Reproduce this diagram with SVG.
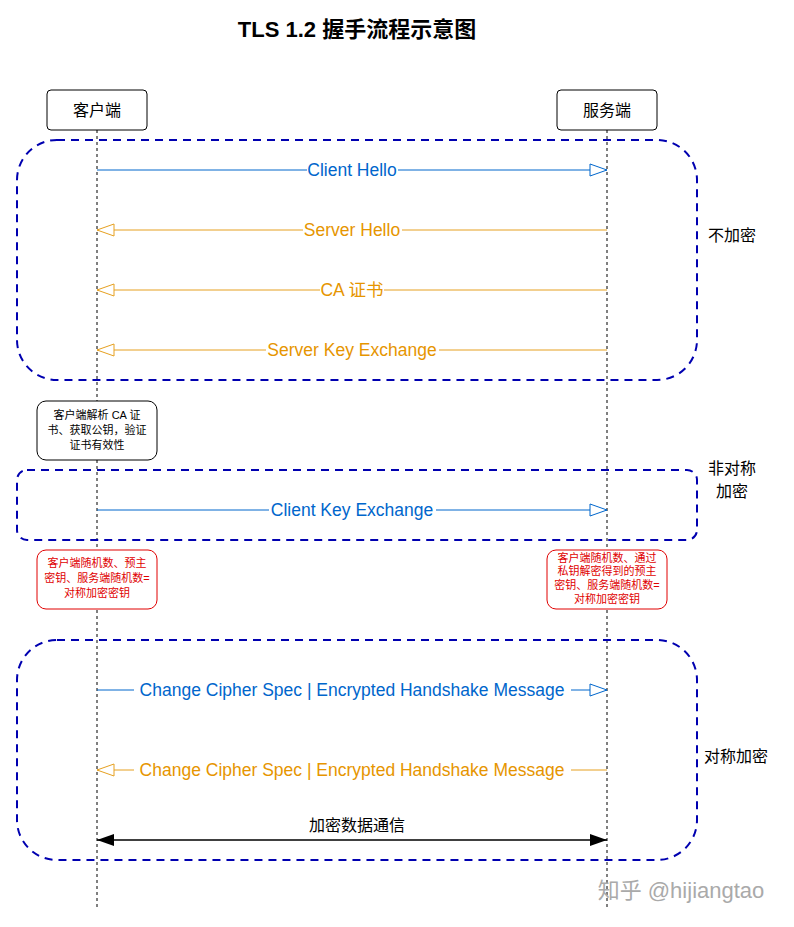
<svg xmlns="http://www.w3.org/2000/svg" width="794" height="927" viewBox="0 0 794 927">
<style>
text{font-family:"Liberation Sans","Noto Sans CJK SC",sans-serif}
.life{stroke:#000;stroke-width:1;stroke-dasharray:3 3}
.grp{fill:none;stroke:#0000B0;stroke-width:2;stroke-dasharray:8 6}
.blue{stroke:#0066CC;stroke-width:1;fill:none}
.orange{stroke:#E6A020;stroke-width:1;fill:none}
.bt{fill:#0066CC;font-size:17.5px;text-anchor:middle}
.ot{fill:#E69500;font-size:17.5px;text-anchor:middle}
.lbl{font-size:16px;fill:#000}
.rt{fill:#E00000;font-size:11px;text-anchor:middle}
.bg{fill:#fff}
</style>
<defs>
<marker id="ab" markerWidth="20" markerHeight="14" refX="18" refY="7" orient="auto" markerUnits="userSpaceOnUse"><path d="M1,1 L18,7 L1,13 Z" fill="#fff" stroke="#0066CC"/></marker>
<marker id="ao" markerWidth="20" markerHeight="14" refX="18" refY="7" orient="auto" markerUnits="userSpaceOnUse"><path d="M1,1 L18,7 L1,13 Z" fill="#fff" stroke="#E6A020"/></marker>
<marker id="ak" markerWidth="20" markerHeight="14" refX="18" refY="7" orient="auto-start-reverse" markerUnits="userSpaceOnUse"><path d="M1,1 L18,7 L1,13 Z" fill="#000"/></marker>
</defs>
<rect width="794" height="927" fill="#fff"/>
<text x="357" y="37" font-size="22" font-weight="bold" text-anchor="middle">TLS 1.2 握手流程示意图</text>
<g id="lifelines">
<line class="life" x1="97" y1="130" x2="97" y2="910"/>
<line class="life" x1="607" y1="130" x2="607" y2="910"/>
</g>
<g id="client"><rect x="47" y="90" width="100" height="40" rx="4" fill="#fff" stroke="#000"/><text x="97" y="116" font-size="16" text-anchor="middle">客户端</text></g>
<g id="server"><rect x="557" y="90" width="100" height="40" rx="4" fill="#fff" stroke="#000"/><text x="607" y="116" font-size="16" text-anchor="middle">服务端</text></g>
<g id="groups">
<rect class="grp" x="17" y="140" width="680" height="240" rx="40"/>
<rect class="grp" x="17" y="470" width="680" height="70" rx="10"/>
<rect class="grp" x="17" y="640" width="680" height="220" rx="40"/>
<text class="lbl" x="732" y="241" text-anchor="middle">不加密</text>
<text class="lbl" x="732" y="474" text-anchor="middle">非对称</text>
<text class="lbl" x="732" y="497" text-anchor="middle">加密</text>
<text class="lbl" x="736" y="762" text-anchor="middle">对称加密</text>
</g>
<g id="connectors">
<line class="blue" x1="97" y1="170" x2="607" y2="170" marker-end="url(#ab)"/>
<line class="orange" x1="607" y1="230" x2="97" y2="230" marker-end="url(#ao)"/>
<line class="orange" x1="607" y1="290" x2="97" y2="290" marker-end="url(#ao)"/>
<line class="orange" x1="607" y1="350" x2="97" y2="350" marker-end="url(#ao)"/>
<line class="blue" x1="97" y1="510" x2="607" y2="510" marker-end="url(#ab)"/>
<line class="blue" x1="97" y1="690" x2="607" y2="690" marker-end="url(#ab)"/>
<line class="orange" x1="607" y1="770" x2="97" y2="770" marker-end="url(#ao)"/>
<line x1="97" y1="840" x2="607" y2="840" stroke="#000" stroke-width="1.5" marker-start="url(#ak)" marker-end="url(#ak)"/>
<rect class="bg" x="307" y="161" width="91" height="18"/>
<rect class="bg" x="303" y="221" width="99" height="18"/>
<rect class="bg" x="320" y="281" width="64" height="18"/>
<rect class="bg" x="266" y="341" width="173" height="18"/>
<rect class="bg" x="269" y="501" width="167" height="18"/>
<rect class="bg" x="134" y="681" width="437" height="18"/>
<rect class="bg" x="134" y="761" width="437" height="18"/>
<text class="bt" x="352" y="176">Client Hello</text>
<text class="ot" x="352" y="236">Server Hello</text>
<text class="ot" x="352" y="296">CA 证书</text>
<text class="ot" x="352" y="356">Server Key Exchange</text>
<text class="bt" x="352" y="516">Client Key Exchange</text>
<text class="bt" x="352" y="696">Change Cipher Spec | Encrypted Handshake Message</text>
<text class="ot" x="352" y="776">Change Cipher Spec | Encrypted Handshake Message</text>
<text x="357" y="831" font-size="16" text-anchor="middle" fill="#000">加密数据通信</text>
</g>
<g id="note1"><rect x="37" y="401" width="120" height="59" rx="9" fill="#fff" stroke="#000"/>
<text x="97" y="419" font-size="11" text-anchor="middle">客户端解析 CA 证</text>
<text x="97" y="434" font-size="11" text-anchor="middle">书、获取公钥，验证</text>
<text x="97" y="449" font-size="11" text-anchor="middle">证书有效性</text></g>
<g id="note2"><rect x="37" y="550" width="120" height="59" rx="9" fill="#fff" stroke="#E00000"/>
<text class="rt" x="97" y="567">客户端随机数、预主</text>
<text class="rt" x="97" y="582">密钥、服务端随机数=</text>
<text class="rt" x="97" y="597">对称加密密钥</text></g>
<g id="note3"><rect x="547" y="550" width="120" height="59" rx="9" fill="#fff" stroke="#E00000"/>
<text class="rt" x="607" y="562">客户端随机数、通过</text>
<text class="rt" x="607" y="575">私钥解密得到的预主</text>
<text class="rt" x="607" y="589">密钥、服务端随机数=</text>
<text class="rt" x="607" y="603">对称加密密钥</text></g>
<text x="681" y="898" font-size="22" fill="#aaa" text-anchor="middle">知乎 @hijiangtao</text>
</svg>
